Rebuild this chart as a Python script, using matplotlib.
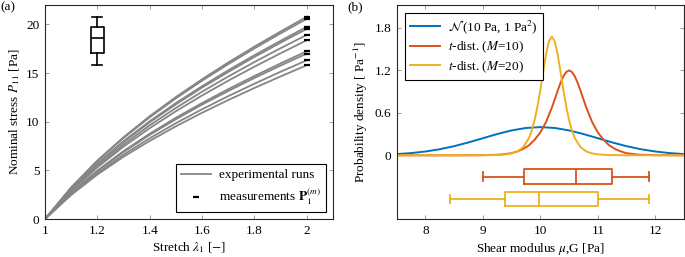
import matplotlib
matplotlib.use("Agg")
import matplotlib.pyplot as plt

plt.rcParams['font.family'] = ['Liberation Serif', 'DejaVu Serif']
plt.rcParams['mathtext.fontset'] = 'stix'

FS = 9.5

# ---------------- data: panel (a) ----------------
stretch = [1.0, 1.1, 1.2, 1.3, 1.4, 1.5, 1.6, 1.7, 1.8, 1.9, 2.0]
run_01 = [0, 3.25, 6.01, 8.41, 10.57, 12.54, 14.37, 16.09, 17.72, 19.28, 20.79]
run_02 = [0, 3.22, 5.95, 8.33, 10.46, 12.41, 14.22, 15.92, 17.54, 19.09, 20.58]
run_03 = [0, 3.09, 5.71, 8.00, 10.05, 11.92, 13.65, 15.29, 16.84, 18.32, 19.76]
run_04 = [0, 3.06, 5.65, 7.91, 9.94, 11.79, 13.51, 15.12, 16.66, 18.13, 19.55]
run_05 = [0, 2.96, 5.47, 7.66, 9.63, 11.42, 13.09, 14.65, 16.14, 17.56, 18.93]
run_06 = [0, 2.87, 5.31, 7.44, 9.34, 11.08, 12.70, 14.22, 15.66, 17.04, 18.38]
run_07 = [0, 2.70, 4.98, 6.98, 8.77, 10.41, 11.92, 13.35, 14.70, 16.00, 17.25]
run_08 = [0, 2.66, 4.91, 6.88, 8.65, 10.26, 11.76, 13.16, 14.50, 15.78, 17.01]
run_09 = [0, 2.55, 4.72, 6.61, 8.30, 9.85, 11.28, 12.63, 13.91, 15.14, 16.32]
run_10 = [0, 2.47, 4.57, 6.40, 8.03, 9.53, 10.92, 12.23, 13.47, 14.66, 15.81]
runs = [run_01, run_02, run_03, run_04, run_05, run_06, run_07, run_08, run_09, run_10]
measurement_stretch = 2.0
measurements = [20.79, 20.58, 19.76, 19.55, 18.93, 18.38, 17.25, 17.01, 16.32, 15.81]
box_a_position = 1.2

# ---------------- data: panel (b) ----------------
normal_x = [7.5, 7.75, 8.0, 8.25, 8.5, 8.75, 9.0, 9.25, 9.5, 9.75, 10.0,
            10.25, 10.5, 10.75, 11.0, 11.25, 11.5, 11.75, 12.0, 12.25, 12.5]
normal_pdf = [0.0175, 0.0317, 0.0540, 0.0863, 0.1295, 0.1826, 0.2420, 0.3011, 0.3521, 0.3867, 0.3989,
              0.3867, 0.3521, 0.3011, 0.2420, 0.1826, 0.1295, 0.0863, 0.0540, 0.0317, 0.0175]

t10_x = [7.5, 8.5, 9.0, 9.3, 9.5, 9.6, 9.7, 9.8, 9.9, 10.0, 10.1, 10.2, 10.25, 10.3, 10.35, 10.4,
         10.45, 10.5, 10.55, 10.6, 10.65, 10.7, 10.75, 10.8, 10.9, 11.0, 11.1, 11.2, 11.3, 11.4, 11.5,
         11.7, 12.0, 12.5]
t10_pdf = [0, 0, 0.002, 0.01, 0.03, 0.055, 0.09, 0.14, 0.22, 0.324, 0.473, 0.675, 0.791, 0.910, 1.023,
           1.116, 1.178, 1.200, 1.178, 1.116, 1.023, 0.910, 0.791, 0.675, 0.473, 0.324, 0.22, 0.14,
           0.09, 0.055, 0.03, 0.01, 0.002, 0]

t20_x = [7.5, 8.5, 9.0, 9.2, 9.4, 9.5, 9.6, 9.7, 9.8, 9.85, 9.9, 9.95, 10.0, 10.05, 10.1, 10.15, 10.2,
         10.25, 10.3, 10.35, 10.4, 10.45, 10.5, 10.55, 10.6, 10.7, 10.8, 10.9, 11.0, 11.2, 11.5, 12.5]
t20_pdf = [0, 0, 0.0014, 0.004, 0.0136, 0.0268, 0.0545, 0.114, 0.242, 0.350, 0.497, 0.691, 0.927, 1.187,
           1.433, 1.612, 1.678, 1.612, 1.433, 1.187, 0.927, 0.691, 0.497, 0.350, 0.242, 0.114, 0.0545,
           0.0268, 0.0136, 0.004, 0.001, 0]

# box statistics: [min, q1, median, q3, max]
box_t10 = [9.00, 9.71, 10.62, 11.24, 11.89]
box_t20 = [8.42, 9.38, 9.97, 11.01, 11.89]
box_b_positions = [-0.30, -0.62]

blue = '#0072BD'
red = '#D95319'
yellow = '#EDB120'
gray = '#858585'

fig = plt.figure(figsize=(6.85, 2.57), dpi=100)
ax1 = fig.add_axes([45 / 685, 38 / 257, 288 / 685, 214 / 257])
ax2 = fig.add_axes([396.7 / 685, 38 / 257, 287.3 / 685, 214 / 257])

for ax in (ax1, ax2):
    ax.tick_params(direction='in', top=True, right=True, length=3, width=0.6,
                   color='0.55', labelsize=FS, pad=4)
    for s in ax.spines.values():
        s.set_color('0.15')
        s.set_linewidth(0.8)

# ---------------- panel (a) ----------------
for i, r in enumerate(runs):
    ax1.plot(stretch, r, color=gray, lw=1.3, label='experimental runs' if i == 0 else None, zorder=2)
ax1.plot([measurement_stretch] * len(measurements), measurements, linestyle='none', marker='_',
         markersize=4.5, markeredgewidth=1.6, color='black',
         label=r'measurements $\mathbf{P}_1^{(m)}$', zorder=3)

bp_kw = dict(color='black', linewidth=1.2)
ax1.boxplot(measurements, positions=[box_a_position], whis=(0, 100), widths=0.05,
            showfliers=False, manage_ticks=False, capwidths=0.038,
            boxprops=bp_kw, whiskerprops=bp_kw, capprops=bp_kw, medianprops=bp_kw)

ax1.set_xlim(1, 2.1)
ax1.set_ylim(0, 22)
ax1.set_xticks([1, 1.2, 1.4, 1.6, 1.8, 2])
ax1.set_xticklabels(['1', '1.2', '1.4', '1.6', '1.8', '2'])
ax1.set_yticks([0, 5, 10, 15, 20])
ax1.set_xlabel(r'Stretch $\lambda_1$ [$-$]', fontsize=FS, labelpad=3)
ax1.set_ylabel(r'Nominal stress $P_{11}$ [Pa]', fontsize=FS, labelpad=3)
leg1 = ax1.legend(loc='lower right', fontsize=FS, frameon=True, fancybox=False, edgecolor='black',
                  framealpha=1, handlelength=2.3, borderaxespad=0.5, borderpad=0.4, labelspacing=0.4,
                  handletextpad=0.6)
leg1.get_frame().set_linewidth(0.8)

# ---------------- panel (b) ----------------
ax2.plot(normal_x, normal_pdf, color=blue, lw=1.4, label=r'$\mathcal{N}\,$(10 Pa, 1 Pa$^2$)')
ax2.plot(t10_x, t10_pdf, color=red, lw=1.4, label=r'$t$-dist. ($M$=10)')
ax2.plot(t20_x, t20_pdf, color=yellow, lw=1.4, label=r'$t$-dist. ($M$=20)')


def stats(v, label):
    return dict(whislo=v[0], q1=v[1], med=v[2], q3=v[3], whishi=v[4], label=label, fliers=[])


for vals, pos, col in ((box_t10, box_b_positions[0], red), (box_t20, box_b_positions[1], yellow)):
    kw = dict(color=col, linewidth=1.3)
    ax2.bxp([stats(vals, '')], positions=[pos], widths=0.2, orientation='horizontal',
            showfliers=False, manage_ticks=False, capwidths=0.12,
            boxprops=kw, whiskerprops=kw, capprops=kw, medianprops=kw)

ax2.set_xlim(7.5, 12.5)
ax2.set_ylim(-0.9, 2.125)
ax2.set_xticks([8, 9, 10, 11, 12])
ax2.set_yticks([0, 0.6, 1.2, 1.8])
ax2.set_yticklabels(['0', '0.6', '1.2', '1.8'])
ax2.set_xlabel(r'Shear modulus $\mu$,G [Pa]', fontsize=FS, labelpad=3)
ax2.set_ylabel(r'Probability density [ Pa$^{-1}$]', fontsize=FS, labelpad=3)
leg2 = ax2.legend(loc='upper left', fontsize=FS, frameon=True, fancybox=False, edgecolor='black',
                  framealpha=1, handlelength=2.3, borderaxespad=0.6, borderpad=0.4, labelspacing=0.3,
                  handletextpad=0.6)
leg2.get_frame().set_linewidth(0.8)

fig.text(0.0, 0.995, '(a)', fontsize=FS, ha='left', va='top')
fig.text(347 / 685, 0.995, '(b)', fontsize=FS, ha='left', va='top')

fig.savefig('out.png', dpi=100)
